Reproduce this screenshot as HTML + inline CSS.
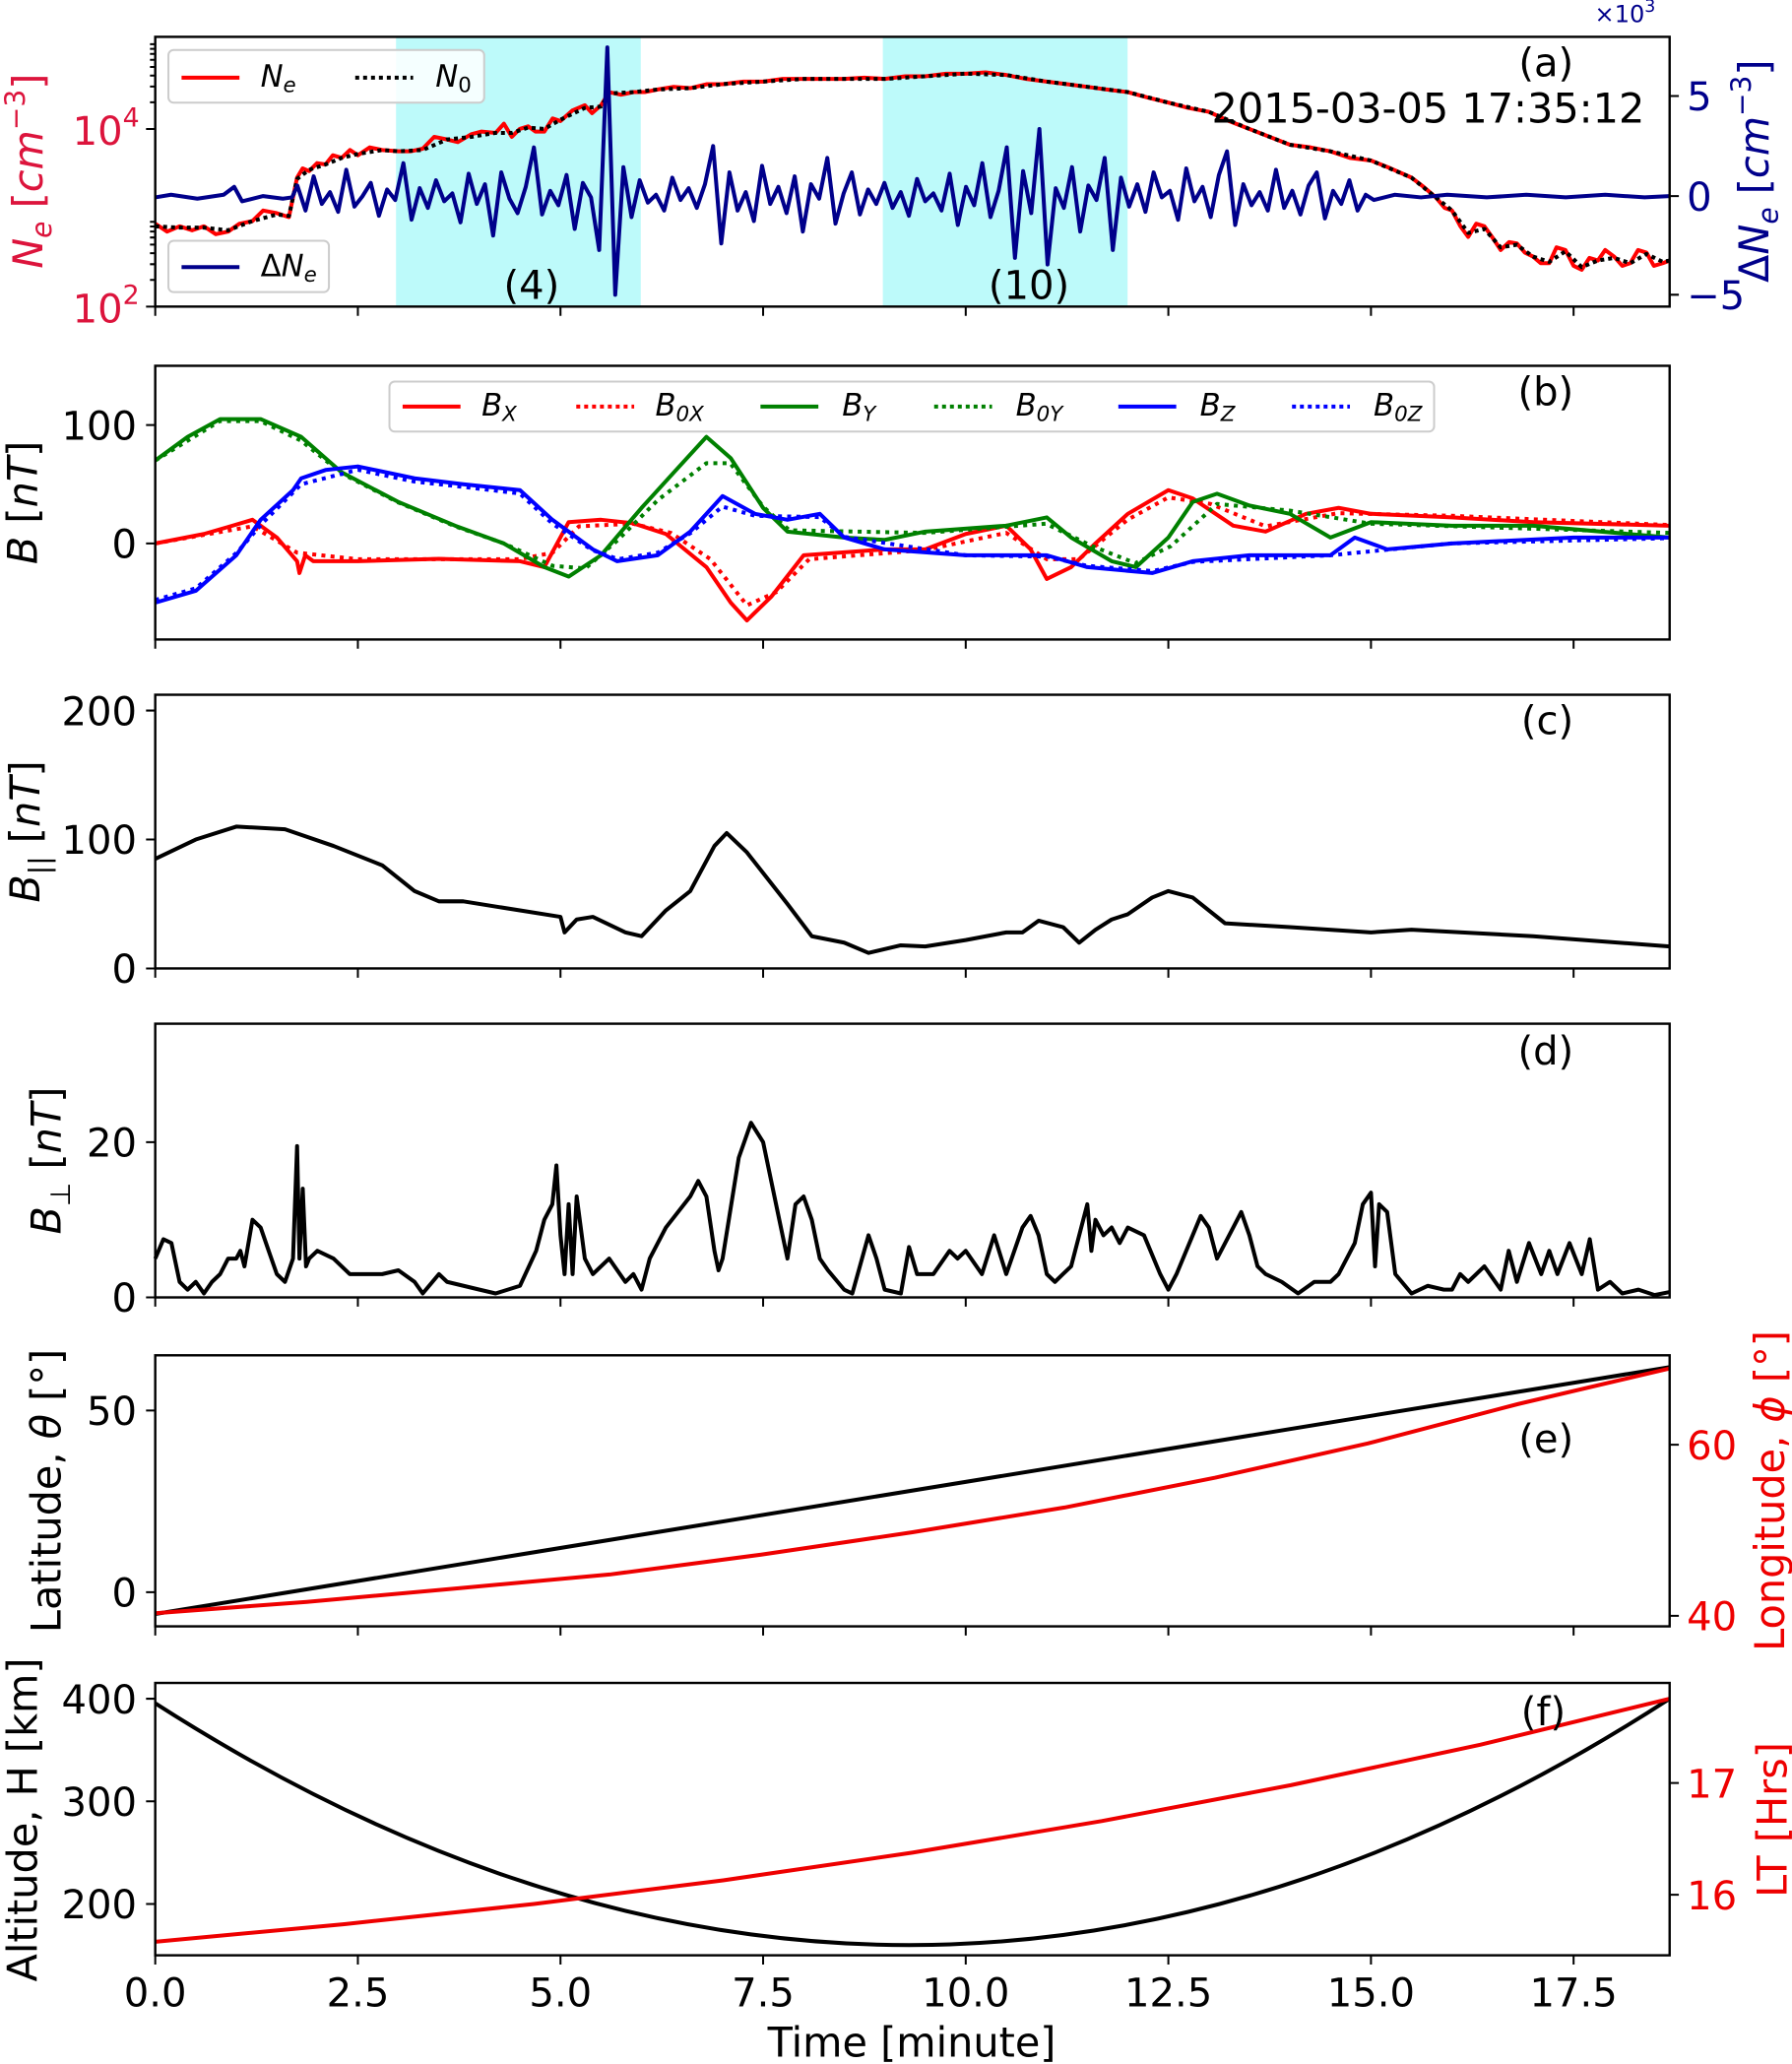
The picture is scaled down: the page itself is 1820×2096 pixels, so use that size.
<!DOCTYPE html>
<html><head><meta charset="utf-8"><style>html,body{margin:0;padding:0;background:#fff}svg{display:block}text{font-family:"DejaVu Sans","Liberation Sans",sans-serif}</style></head>
<body>
<svg width="1820" height="2096" viewBox="0 0 1362 1568.6" preserveAspectRatio="none" xmlns="http://www.w3.org/2000/svg">
<rect x="301" y="28" width="186" height="205" fill="#bdfafa"/>
<rect x="671" y="28" width="186" height="205" fill="#bdfafa"/>
<g fill="none" stroke-linejoin="round" stroke-width="3">
<!-- Ne -->
<polyline stroke="#f00" points="118,170 127,176 136.5,172 146,175 155,172 164,178 173.4,176 182,170 191.9,168 200,160 210.4,162 219.6,165 225.8,135 230,128 235,130 241,124 247.4,125 253,118 259.7,120 266,114 272,118 281,112 290.5,114 302.8,115 312,115 321.3,113 330,104 339.8,106 348,108 358.2,102 366,100 376.7,101 383,94 389,104 395,98 401.4,96 407,100 413.7,100 420,90 426,92 435,84 444.5,80 450,86 456.8,80 463,70 472,72 481.4,70 490,70 499.9,68 512,66 524.6,67 537,64 549.2,64 565,62 580,62 595,60 610.8,60 626,60 641.6,60 657,59 672.4,60 688,58 703.2,58 719,56 734,56 749,55 764.8,57 780,60 795.6,62 811,64 826.4,66 841,68 857.2,70 872,74 888,78 903,82 918.8,85 934,92 949.6,98 965,104 980.4,110 996,112 1011.2,115 1026,120 1042,122 1057,128 1072.8,135 1082,142 1091.3,150 1098,158 1103.6,160 1110,172 1115.9,180 1122,170 1128.2,172 1134,180 1140.6,190 1147,184 1152.9,185 1159,192 1165.2,195 1171,200 1177.5,200 1183,188 1189.8,190 1196,202 1202.2,205 1208,196 1214.5,198 1220,190 1226.8,195 1233,202 1239.1,200 1245,190 1251.4,192 1257,202 1263.8,200 1269,198"/>
<polyline stroke="#000" stroke-dasharray="3,3" points="118,172 136.5,173 155,173 173.4,175 191.9,168 210.4,163 219.6,164 225.8,136 235,129 247.4,125 259.7,120 272,117 290.5,114 302.8,115 321.3,114 339.8,106 358.2,104 376.7,101 389,101 401.4,97 413.7,98 426,91 444.5,82 456.8,81 463,71 481.4,70 499.9,68 524.6,67 549.2,64 580,62 610.8,60 641.6,60 672.4,60 703.2,58 734,56 764.8,57 795.6,62 826.4,66 857.2,70 888,78 918.8,85 949.6,98 980.4,110 1011.2,115 1042,122 1072.8,135 1091.3,150 1103.6,160 1115.9,177 1128.2,174 1140.6,188 1152.9,186 1165.2,195 1177.5,199 1189.8,191 1202.2,203 1214.5,198 1226.8,196 1239.1,200 1251.4,193 1263.8,199 1269,198"/>
<!-- dNe -->
<polyline stroke="#00008b" points="118,150 130,148 150,151 170,148 178,142 184,153 200,149 215,151 222,150 226,141 232.2,160 238.4,134 244.6,155 250.8,146 257,161 263.2,129 269.4,157 275.6,149 281.8,139 288,164 294.2,144 300.4,152 306.6,124 312.8,167 319,143 325.2,158 331.4,137 337.6,153 343.8,147 350,169 356.2,132 362.4,155 368.6,140 374.8,179 381,131 387.2,151 393.4,162 399.6,142 405.8,112 412,163 418.2,145 424.4,156 430.6,133 436.8,174 443,139 449.2,150 455.4,190 461.6,36 467.6,224 473.8,127 480,165 486.2,137 492.4,154 498.6,148 504.8,160 511,135 517.2,152 523.4,143 529.6,158 535.8,140 542,111 548.2,185 554.4,131 560.6,160 566.8,146 573,168 579.2,126 585.4,155 591.6,142 597.8,162 604,134 610.2,176 616.4,140 622.6,151 628.8,120 635,170 641.2,147 647.4,131 653.6,163 659.8,144 666,155 672.2,139 678.4,158 684.6,146 690.8,164 697,136 703.2,153 709.4,147 715.6,160 721.8,132 728,171 734.2,142 740.4,156 746.6,124 752.8,165 759,145 765.2,112 771.4,196 777.6,130 783.8,162 790,98 796.2,201 802.4,143 808.6,158 814.8,127 821,176 827.2,141 833.4,152 839.6,120 845.8,190 852,135 858.2,157 864.4,140 870.6,161 876.8,131 883,150 889.2,145 895.4,167 901.6,128 907.8,153 914,142 920.2,165 926.4,133 932.6,115 938.8,171 945,140 951.2,156 957.4,146 963.6,160 969.8,129 976,158 982.2,145 988.4,163 994.6,141 1000.8,131 1007,166 1013.2,145 1019.4,155 1025.6,137 1031.8,160 1038,148 1044.2,152 1060,148 1080,150 1100,148 1130,150 1160,148 1190,150 1220,148 1250,150 1269,149"/>
<!-- panel b -->
<polyline stroke="#f00" points="118,413 155,405.8 175,400 191.9,395 210.4,408.5 225.8,426.5 227.6,435.5 232,422 238.1,426.5 272,426.5 333.6,424.7 395.2,426.5 413.7,431 432.2,396.8 456.8,395 481.4,397.7 506.1,405.8 536.9,431 555.4,458 567.7,471.5 586.2,453.5 610.8,422 672.4,417.5 703.2,417.5 734,405.8 764.8,399.5 783.3,417.5 795.6,440 814.1,431 832.6,413 857.2,390.5 888,372.5 906.5,378.8 937.3,399.5 961.9,404 992.7,390.5 1017.4,386 1042,390.5 1103.6,393.2 1165.2,396.8 1269,399.5"/>
<polyline stroke="#f00" stroke-dasharray="3,4" points="118,413 191.9,400 225.8,420 272,425 395,425 420,420 440,400 481,398 510,405 540,425 567.7,460 590,450 615,425 703,418 764.8,405 795.6,425 820,425 857,395 888,378 920,383 962,400 1017,390 1103.6,392 1269,399"/>
<polyline stroke="#008000" points="118,350 142.6,332 167.3,318.5 198.1,318.5 228.9,332 259.7,359 302.8,381.5 345.9,399.5 382.9,413 413.7,431 432.2,438.2 456.8,422 487.6,386 512.2,359 536.9,332 555.4,348.2 580,386 598.5,404 641.6,408.5 672.4,410.3 703.2,404 764.8,399.5 795.6,393.2 814.1,408.5 844.9,426.5 863.4,431 888,408.5 906.5,381.5 925,375.2 949.6,384.2 980.4,390.5 1011.2,408.5 1042,396.8 1103.6,399.5 1165.2,399.5 1269,408.5"/>
<polyline stroke="#008000" stroke-dasharray="3,4" points="118,350 167,320 198,320 229,335 260,360 303,382 346,400 383,413 420,430 445,432 470,410 500,380 536.9,352 555,352 580,385 600,403 703,405 795,398 830,415 863,428 890,415 925,383 980,388 1042,398 1269,405"/>
<polyline stroke="#00f" points="118,458 148.8,449 179.6,422 198.1,395 222.7,372.5 228.9,363.5 247.4,357.2 272,354.5 315.1,363.5 352.1,368 395.2,372.5 419.8,395 432.2,404 450.6,417.5 469.1,426.5 499.9,422 524.6,404 549.2,377 573.8,390.5 598.5,395 623.1,390.5 641.6,408.5 672.4,417.5 734,422 795.6,422 826.4,431 875.7,435.5 906.5,426.5 949.6,422 1011.2,422 1029.7,408.5 1054.3,417.5 1103.6,413 1196,408.5 1269,408.5"/>
<polyline stroke="#00f" stroke-dasharray="3,4" points="118,456 149,447 180,420 200,397 229,368 272,357 315,366 352,370 395,375 420,398 450,418 470,425 500,420 525,405 549,385 574,392 623,393 642,408 734,422 796,423 826,430 876,434 907,427 1011,422 1103,413 1269,409"/>
<!-- panel c -->
<polyline stroke="#000" points="118,652.7 148.8,638 179.6,628.2 216.6,630.2 253.5,642.9 290.5,657.6 315.1,677.2 333.6,685 352.1,685 395.2,691.9 426,696.8 429.1,708.6 438.3,698.8 450.6,696.8 475.3,708.6 487.6,711.5 506.1,691.9 524.6,677.2 543,642.9 552.3,633.1 567.7,647.8 598.5,687 617,711.5 641.6,716.4 660.1,724.2 684.7,718.4 703.2,719.3 734,714.4 764.8,708.6 777.1,708.6 789.4,699.7 808,704.6 820.2,716.4 832.6,706.6 844.9,698.8 857.2,694.8 875.7,682.1 888,677.2 906.5,682.1 931.1,701.7 980.4,704.6 1042,708.6 1072.8,706.6 1165.2,711.5 1269,719.3"/>
<!-- panel d -->
<polyline stroke="#000" points="118,956.5 124.2,941.8 130.3,944.7 136.5,974.2 142.6,980.1 148.8,974.2 155,983 161.1,974.2 167.3,968.3 173.4,956.5 179.6,956.5 182.7,950.6 185.8,962.4 191.9,927 198.1,932.9 204.2,950.6 210.4,968.3 216.6,974.2 222.7,956.5 225.8,871 227.6,956.5 230.1,903.4 232.6,962.4 235,956.5 241.2,950.6 253.5,956.5 265.8,968.3 290.5,968.3 302.8,965.4 315.1,974.2 321.3,983 333.6,968.3 339.8,974.2 364.4,980.1 376.7,983 395.2,977.2 407.5,950.6 413.7,927 419.8,915.2 422.9,885.7 426,938.8 429.1,968.3 432.2,915.2 435.2,968.3 438.3,909.3 444.5,956.5 450.6,968.3 463,956.5 475.3,974.2 481.4,968.3 487.6,980.1 493.8,956.5 506.1,932.9 524.6,909.3 530.7,897.5 536.9,909.3 543,950.6 546.1,965.4 549.2,956.5 561.5,879.8 570.8,853.3 580,868 592.3,927 598.5,956.5 604.6,915.2 610.8,909.3 617,927 623.1,956.5 629.3,965.4 641.6,980.1 647.8,983 660.1,938.8 666.2,956.5 672.4,980.1 684.7,983 690.9,947.7 697,968.3 709.4,968.3 721.7,950.6 727.8,956.5 734,950.6 746.3,968.3 755.6,938.8 764.8,968.3 777.1,932.9 783.3,924.1 789.4,938.8 795.6,968.3 801.8,974.2 807.9,968.3 814.1,962.4 826.4,915.2 829.5,950.6 832.6,927 838.7,938.8 844.9,932.9 851,944.7 857.2,932.9 869.5,938.8 881.8,968.3 888,980.1 894.2,968.3 906.5,938.8 912.6,924.1 918.8,932.9 925,956.5 937.3,932.9 943.4,921.1 949.6,938.8 955.8,962.4 961.9,968.3 974.2,974.2 986.6,983 998.9,974.2 1011.2,974.2 1017.4,968.3 1029.7,944.7 1035.8,915.2 1042,906.4 1045.1,962.4 1048.2,915.2 1054.3,921.1 1060.5,968.3 1072.8,983 1085.1,977.2 1097.4,980.1 1103.6,980.1 1109.8,968.3 1115.9,974.2 1128.2,962.4 1140.6,980.1 1146.7,950.6 1152.9,974.2 1162.1,944.7 1171.4,968.3 1177.5,950.6 1183.7,968.3 1192.9,944.7 1202.2,968.3 1208.3,941.8 1214.5,980.1 1223.7,974.2 1233,983 1245.3,980.1 1257.6,984.2 1269,981.9"/>
<!-- panel e -->
<line x1="118" y1="1226.6" x2="1269" y2="1039" stroke="#000"/>
<polyline stroke="#e00" points="118,1226 233.1,1217.4 348.5,1207 463.3,1196.6 578.5,1181.5 693.5,1164.5 809,1145.7 923.7,1123 1039.6,1097 1154,1067 1269,1040"/>
<!-- panel f -->
<path stroke="#000" d="M118,1294.5 Q404.5,1478.2 690.9,1478.2 Q980,1478.2 1269,1291"/>
<polyline stroke="#e00" points="118,1475.7 261.8,1462.3 405.8,1447 549.6,1429 693.5,1408 837.3,1384 981,1356.7 1125,1326 1269,1291"/>
</g>
<g fill="none" stroke="#000" stroke-width="1.8">
<rect x="118" y="28" width="1151" height="205"/>
<rect x="118" y="278" width="1151" height="208"/>
<rect x="118" y="528" width="1151" height="208"/>
<rect x="118" y="778" width="1151" height="208"/>
<rect x="118" y="1030" width="1151" height="206"/>
<rect x="118" y="1279" width="1151" height="207"/>
</g>
<g stroke="#000" stroke-width="1.5">
<path d="M118,233v7M272,233v7M426,233v7M580,233v7M734,233v7M888,233v7M1042,233v7M1196,233v7
M118,486v7M272,486v7M426,486v7M580,486v7M734,486v7M888,486v7M1042,486v7M1196,486v7
M118,736v7M272,736v7M426,736v7M580,736v7M734,736v7M888,736v7M1042,736v7M1196,736v7
M118,986v7M272,986v7M426,986v7M580,986v7M734,986v7M888,986v7M1042,986v7M1196,986v7
M118,1236v7M272,1236v7M426,1236v7M580,1236v7M734,1236v7M888,1236v7M1042,1236v7M1196,1236v7
M118,1486v7M272,1486v7M426,1486v7M580,1486v7M734,1486v7M888,1486v7M1042,1486v7M1196,1486v7
M111,98h7M111,233h7M111,323h7M111,413h7M111,540h7M111,638h7M111,736h7M111,868h7M111,986h7M111,1072h7M111,1210h7M111,1291h7M111,1369h7M111,1447h7
M1269,73h7M1269,149h7M1269,224h7M1269,1098h7M1269,1228h7M1269,1355h7M1269,1440h7
M114,212.7h4M114,200.8h4M114,192.4h4M114,185.9h4M114,180.5h4M114,176h4M114,172.1h4M114,168.6h4
M114,77.7h4M114,65.8h4M114,57.4h4M114,50.9h4M114,45.5h4M114,41h4M114,37.1h4M114,33.6h4"/>
</g>
<g font-size="30" fill="#000">
<g text-anchor="end" fill="#dc143c"><text x="106" y="110">10<tspan dy="-14" font-size="20">4</tspan></text><text x="106" y="245">10<tspan dy="-14" font-size="20">2</tspan></text></g>
<g text-anchor="start" fill="#00008b"><text x="1282" y="84">5</text><text x="1282" y="160">0</text><text x="1282" y="235">−5</text><text x="1212" y="17" font-size="18">×10<tspan dy="-8" font-size="13">3</tspan></text></g>
<g text-anchor="end"><text x="104" y="334">100</text><text x="104" y="424">0</text>
<text x="104" y="551">200</text><text x="104" y="649">100</text><text x="104" y="747">0</text>
<text x="104" y="879">20</text><text x="104" y="997">0</text>
<text x="104" y="1083">50</text><text x="104" y="1221">0</text>
<text x="104" y="1302">400</text><text x="104" y="1380">300</text><text x="104" y="1458">200</text></g>
<g fill="#e00"><text x="1282" y="1109">60</text><text x="1282" y="1239">40</text><text x="1282" y="1366">17</text><text x="1282" y="1451">16</text></g>
<g text-anchor="middle"><text x="118" y="1525">0.0</text><text x="272" y="1525">2.5</text><text x="426" y="1525">5.0</text><text x="580" y="1525">7.5</text><text x="734" y="1525">10.0</text><text x="888" y="1525">12.5</text><text x="1042" y="1525">15.0</text><text x="1196" y="1525">17.5</text>
<text x="693" y="1563" font-size="31">Time [minute]</text>
<text x="404" y="227">(4)</text><text x="782" y="227">(10)</text></g>
<g text-anchor="end"><text x="1196" y="58">(a)</text><text x="1196" y="308">(b)</text><text x="1196" y="558">(c)</text><text x="1196" y="809">(d)</text><text x="1196" y="1104">(e)</text><text x="1190" y="1311">(f)</text>
<text x="1250" y="93" font-size="31">2015-03-05 17:35:12</text></g>
<text transform="translate(32,130) rotate(-90)" text-anchor="middle" fill="#dc143c" font-size="31"><tspan font-style="italic">N<tspan font-size="21" dy="7">e</tspan></tspan><tspan dy="-7"> [</tspan><tspan font-style="italic">cm</tspan><tspan font-size="21" dy="-13">−3</tspan><tspan dy="13">]</tspan></text>
<text transform="translate(1344,130) rotate(-90)" text-anchor="middle" fill="#00008b" font-size="31">Δ<tspan font-style="italic">N<tspan font-size="21" dy="7">e</tspan></tspan><tspan dy="-7"> [</tspan><tspan font-style="italic">cm</tspan><tspan font-size="21" dy="-13">−3</tspan><tspan dy="13">]</tspan></text>
<text transform="translate(28,382) rotate(-90)" text-anchor="middle" font-size="31"><tspan font-style="italic">B</tspan> [<tspan font-style="italic">nT</tspan>]</text>
<text transform="translate(30,632) rotate(-90)" text-anchor="middle" font-size="31"><tspan font-style="italic">B</tspan><tspan font-size="21" dy="7">||</tspan><tspan dy="-7"> [</tspan><tspan font-style="italic">nT</tspan>]</text>
<text transform="translate(46,882) rotate(-90)" text-anchor="middle" font-size="31"><tspan font-style="italic">B</tspan><tspan font-size="21" dy="7">⊥</tspan><tspan dy="-7"> [</tspan><tspan font-style="italic">nT</tspan>]</text>
<text transform="translate(46,1133) rotate(-90)" text-anchor="middle" font-size="31">Latitude, <tspan font-style="italic">θ</tspan> [°]</text>
<text transform="translate(1356,1133) rotate(-90)" text-anchor="middle" font-size="31" fill="#e00">Longitude, <tspan font-style="italic">ϕ</tspan> [°]</text>
<text transform="translate(28,1383) rotate(-90)" text-anchor="middle" font-size="31">Altitude, H [km]</text>
<text transform="translate(1358,1383) rotate(-90)" text-anchor="middle" font-size="31" fill="#e00">LT [Hrs]</text>
</g>
<g font-size="23" font-style="italic">
<rect x="128" y="38" width="240" height="40" rx="4" fill="#fff" fill-opacity="0.85" stroke="#ccc" stroke-width="1.5"/>
<line x1="138" y1="59" x2="182" y2="59" stroke="#f00" stroke-width="3"/><text x="198" y="66">N<tspan font-size="16" dy="4">e</tspan></text>
<line x1="270" y1="59" x2="314" y2="59" stroke="#000" stroke-width="3" stroke-dasharray="3,3"/><text x="331" y="66">N<tspan font-size="16" dy="4" font-style="normal">0</tspan></text>
<rect x="128" y="183" width="122" height="39" rx="4" fill="#fff" fill-opacity="0.85" stroke="#ccc" stroke-width="1.5"/>
<line x1="138" y1="203" x2="182" y2="203" stroke="#00008b" stroke-width="3"/><text x="198" y="210"><tspan font-style="normal">Δ</tspan>N<tspan font-size="16" dy="4">e</tspan></text>
<rect x="296" y="290" width="794" height="38" rx="4" fill="#fff" fill-opacity="0.85" stroke="#ccc" stroke-width="1.5"/>
<line x1="306" y1="309" x2="350" y2="309" stroke="#f00" stroke-width="3"/><text x="366" y="316">B<tspan font-size="16" dy="4">X</tspan></text>
<line x1="438" y1="309" x2="482" y2="309" stroke="#f00" stroke-width="3" stroke-dasharray="3,3"/><text x="498" y="316">B<tspan font-size="16" dy="4">0X</tspan></text>
<line x1="578" y1="309" x2="622" y2="309" stroke="#008000" stroke-width="3"/><text x="640" y="316">B<tspan font-size="16" dy="4">Y</tspan></text>
<line x1="710" y1="309" x2="754" y2="309" stroke="#008000" stroke-width="3" stroke-dasharray="3,3"/><text x="772" y="316">B<tspan font-size="16" dy="4">0Y</tspan></text>
<line x1="850" y1="309" x2="894" y2="309" stroke="#00f" stroke-width="3"/><text x="912" y="316">B<tspan font-size="16" dy="4">Z</tspan></text>
<line x1="982" y1="309" x2="1026" y2="309" stroke="#00f" stroke-width="3" stroke-dasharray="3,3"/><text x="1044" y="316">B<tspan font-size="16" dy="4">0Z</tspan></text>
</g>
</svg>
</body></html>
